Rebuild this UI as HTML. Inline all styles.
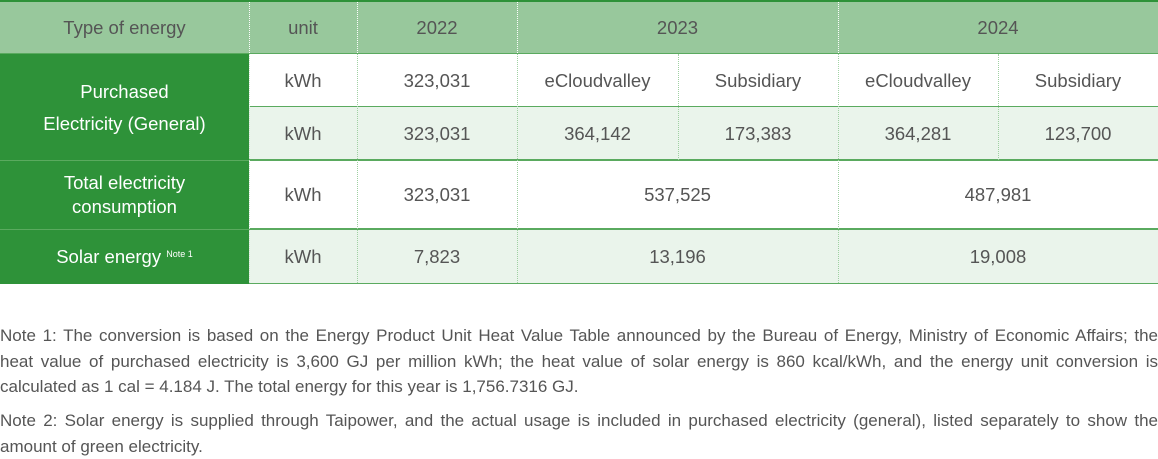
<!DOCTYPE html>
<html><head><style>
body{margin:0;width:1158px;height:458px;background:#fff;font-family:"Liberation Sans",sans-serif;position:relative;overflow:hidden}
.c{position:absolute;display:flex;align-items:center;justify-content:center;text-align:center;font-size:18.5px;color:#555;box-sizing:border-box}
.h{background:#98c89c}
.d{background:#2e9239;color:#fff;line-height:24px}
.l{background:#eaf4eb}
.hl{position:absolute;left:0;width:1158px;height:2px;background:#5aaa5f}
.vd{position:absolute;width:0;border-left:1px dotted #9fd0a2}
.vh{position:absolute;width:0;border-left:1px dotted #fff}
.n{position:absolute;left:0;width:1158px;font-size:17px;color:#555;line-height:25.5px;text-align:justify;white-space:nowrap}
.w{white-space:normal}
</style></head><body>
<div class="hl" style="top:0;background:#2e9239"></div>
<div class="c h" style="left:0;top:2px;width:1158px;height:51px"></div>
<div class="c h" style="left:0;top:2px;width:249px;height:51px">Type of energy</div>
<div class="c h" style="left:249px;top:2px;width:108px;height:51px">unit</div>
<div class="c h" style="left:357px;top:2px;width:160px;height:51px">2022</div>
<div class="c h" style="left:517px;top:2px;width:321px;height:51px">2023</div>
<div class="c h" style="left:838px;top:2px;width:320px;height:51px">2024</div>
<div class="vh" style="left:249px;top:2px;height:51px"></div>
<div class="vh" style="left:357px;top:2px;height:51px"></div>
<div class="vh" style="left:517px;top:2px;height:51px"></div>
<div class="vh" style="left:838px;top:2px;height:51px"></div>
<div class="hl" style="top:53px;height:1px"></div>

<div class="c l" style="left:249px;top:107px;width:909px;height:53px"></div>
<div class="c l" style="left:249px;top:230px;width:909px;height:54px"></div>

<div class="c" style="left:249px;top:54px;width:108px;height:53px">kWh</div>
<div class="c" style="left:357px;top:54px;width:160px;height:53px">323,031</div>
<div class="c" style="left:517px;top:54px;width:161px;height:53px">eCloudvalley</div>
<div class="c" style="left:678px;top:54px;width:160px;height:53px">Subsidiary</div>
<div class="c" style="left:838px;top:54px;width:160px;height:53px">eCloudvalley</div>
<div class="c" style="left:998px;top:54px;width:160px;height:53px">Subsidiary</div>
<div class="hl" style="top:106px;height:1px;left:249px"></div>
<div class="c" style="left:249px;top:107px;width:108px;height:53px">kWh</div>
<div class="c" style="left:357px;top:107px;width:160px;height:53px">323,031</div>
<div class="c" style="left:517px;top:107px;width:161px;height:53px">364,142</div>
<div class="c" style="left:678px;top:107px;width:160px;height:53px">173,383</div>
<div class="c" style="left:838px;top:107px;width:160px;height:53px">364,281</div>
<div class="c" style="left:998px;top:107px;width:160px;height:53px">123,700</div>
<div class="hl" style="top:159px"></div>
<div class="c" style="left:249px;top:161px;width:108px;height:68px">kWh</div>
<div class="c" style="left:357px;top:161px;width:160px;height:68px">323,031</div>
<div class="c" style="left:517px;top:161px;width:321px;height:68px">537,525</div>
<div class="c" style="left:838px;top:161px;width:320px;height:68px">487,981</div>
<div class="hl" style="top:228px"></div>
<div class="c" style="left:249px;top:230px;width:108px;height:54px">kWh</div>
<div class="c" style="left:357px;top:230px;width:160px;height:54px">7,823</div>
<div class="c" style="left:517px;top:230px;width:321px;height:54px">13,196</div>
<div class="c" style="left:838px;top:230px;width:320px;height:54px">19,008</div>
<div class="hl" style="top:283px;height:1px"></div>

<div class="vd" style="left:357px;top:54px;height:229px"></div>
<div class="vd" style="left:517px;top:54px;height:229px"></div>
<div class="vd" style="left:838px;top:54px;height:229px"></div>
<div class="vd" style="left:678px;top:54px;height:106px"></div>
<div class="vd" style="left:998px;top:54px;height:106px"></div>
<div class="vd" style="left:249px;top:54px;height:229px;border-color:#cfe6d0"></div>

<div class="c d" style="left:0;top:54px;width:249px;height:106px;line-height:32px;padding-top:2px">Purchased<br>Electricity (General)</div>
<div class="c d" style="left:0;top:161px;width:249px;height:68px">Total electricity<br>consumption</div>
<div class="c d" style="left:0;top:230px;width:249px;height:54px">Solar energy&nbsp;<sup style="font-size:9px;position:relative;top:-3px">Note 1</sup></div>

<div class="n" style="top:323px;text-align-last:justify">Note 1: The conversion is based on the Energy Product Unit Heat Value Table announced by the Bureau of Energy, Ministry of Economic Affairs; the</div>
<div class="n" style="top:348.5px;text-align-last:justify">heat value of purchased electricity is 3,600 GJ per million kWh; the heat value of solar energy is 860 kcal/kWh, and the energy unit conversion is</div>
<div class="n" style="top:374px;text-align:left">calculated as 1 cal = 4.184 J. The total energy for this year is 1,756.7316 GJ.</div>
<div class="n w" style="top:408px">Note 2: Solar energy is supplied through Taipower, and the actual usage is included in purchased electricity (general), listed separately to show the amount of green electricity.</div>
</body></html>
